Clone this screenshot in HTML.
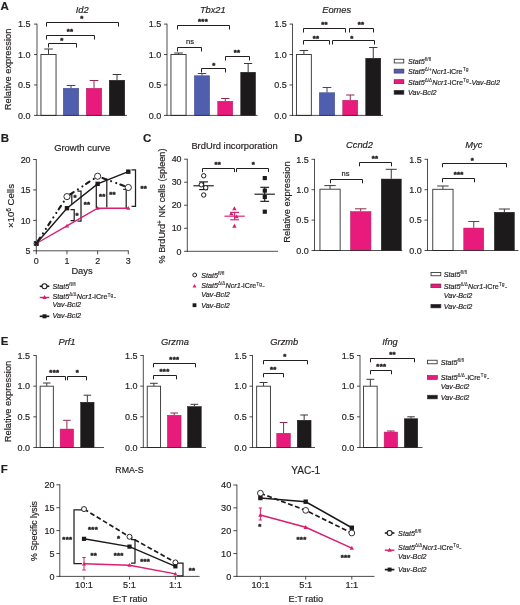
<!DOCTYPE html>
<html lang="en">
<head>
<meta charset="utf-8">
<title>Figure</title>
<style>html,body{margin:0;padding:0;background:#fff}svg{display:block}text{font-family:"Liberation Sans",sans-serif}</style>
</head>
<body>
<svg width="520" height="605" viewBox="0 0 520 605" font-family="'Liberation Sans', sans-serif">
<rect width="520" height="605" fill="#fff"/>
<text x="0.6" y="10.3" font-size="11.5" font-weight="bold" fill="#231f20" stroke="#231f20" stroke-width="0.18">A</text>
<text x="11.4" y="69.4" font-size="9.35" text-anchor="middle" fill="#231f20" stroke="#231f20" stroke-width="0.18" transform="rotate(-90 11.4 69.4)">Relative expression</text>
<text x="82.2" y="12.7" font-size="9.3" font-style="italic" text-anchor="middle" fill="#231f20" stroke="#231f20" stroke-width="0.18">Id2</text>
<line x1="37" y1="23.700000000000003" x2="37" y2="115.80000000000001" stroke="#231f20" stroke-width="0.8"/>
<line x1="34" y1="24.1" x2="37" y2="24.1" stroke="#231f20" stroke-width="0.8"/>
<text x="30.6" y="27.34" font-size="9.0" text-anchor="end" fill="#231f20" stroke="#231f20" stroke-width="0.18">1.5</text>
<line x1="34" y1="54.53333333333334" x2="37" y2="54.53333333333334" stroke="#231f20" stroke-width="0.8"/>
<text x="30.6" y="57.77333333333334" font-size="9.0" text-anchor="end" fill="#231f20" stroke="#231f20" stroke-width="0.18">1.0</text>
<line x1="34" y1="84.96666666666667" x2="37" y2="84.96666666666667" stroke="#231f20" stroke-width="0.8"/>
<text x="30.6" y="88.20666666666666" font-size="9.0" text-anchor="end" fill="#231f20" stroke="#231f20" stroke-width="0.18">0.5</text>
<line x1="34" y1="115.4" x2="37" y2="115.4" stroke="#231f20" stroke-width="0.8"/>
<text x="30.6" y="118.64" font-size="9.0" text-anchor="end" fill="#231f20" stroke="#231f20" stroke-width="0.18">0.0</text>
<line x1="48.5" y1="49" x2="48.5" y2="54.5" stroke="#3c3a3b" stroke-width="1.0"/>
<line x1="44.18" y1="49" x2="52.82" y2="49" stroke="#3c3a3b" stroke-width="1.0"/>
<rect x="40.95" y="54.50" width="15.10" height="60.90" fill="#fff" stroke="#3c3a3b" stroke-width="0.95"/>
<line x1="71.0" y1="85.5" x2="71.0" y2="88" stroke="#3e4478" stroke-width="1.0"/>
<line x1="66.68" y1="85.5" x2="75.32" y2="85.5" stroke="#3e4478" stroke-width="1.0"/>
<rect x="63.25" y="88.25" width="15.50" height="27.15" fill="#4f5fae" stroke="#3f4a8c" stroke-width="0.5"/>
<line x1="94.0" y1="80.5" x2="94.0" y2="88" stroke="#8e2a52" stroke-width="1.0"/>
<line x1="89.68" y1="80.5" x2="98.32" y2="80.5" stroke="#8e2a52" stroke-width="1.0"/>
<rect x="86.25" y="88.25" width="15.50" height="27.15" fill="#e81a7c" stroke="#b01f62" stroke-width="0.5"/>
<line x1="117.0" y1="74.5" x2="117.0" y2="80" stroke="#3a3839" stroke-width="1.0"/>
<line x1="112.68" y1="74.5" x2="121.32" y2="74.5" stroke="#3a3839" stroke-width="1.0"/>
<rect x="109.25" y="80.25" width="15.50" height="35.15" fill="#1d1a1b" stroke="#1d1a1b" stroke-width="0.5"/>
<line x1="36.6" y1="115.4" x2="127" y2="115.4" stroke="#231f20" stroke-width="0.8"/>
<path d="M46.5 26.5V22.5H118.5V26.5" stroke="#231f20" stroke-width="1.0" fill="none" stroke-linejoin="miter"/>
<path d="M46.5 39.5V35.5H94.5V39.5" stroke="#231f20" stroke-width="1.0" fill="none" stroke-linejoin="miter"/>
<path d="M48.5 47.5V43.5H76.5V47.5" stroke="#231f20" stroke-width="1.0" fill="none" stroke-linejoin="miter"/>
<text x="82" y="21.29" font-size="7.8" font-weight="bold" text-anchor="middle" fill="#231f20" stroke="#231f20" stroke-width="0.45" letter-spacing="0.25">*</text>
<text x="70" y="33.79" font-size="7.8" font-weight="bold" text-anchor="middle" fill="#231f20" stroke="#231f20" stroke-width="0.45" letter-spacing="0.25">**</text>
<text x="62" y="42.79" font-size="7.8" font-weight="bold" text-anchor="middle" fill="#231f20" stroke="#231f20" stroke-width="0.45" letter-spacing="0.25">*</text>
<text x="212.8" y="12.7" font-size="9.3" font-style="italic" text-anchor="middle" fill="#231f20" stroke="#231f20" stroke-width="0.18">Tbx21</text>
<line x1="167" y1="23.700000000000003" x2="167" y2="115.80000000000001" stroke="#231f20" stroke-width="0.8"/>
<line x1="164" y1="24.1" x2="167" y2="24.1" stroke="#231f20" stroke-width="0.8"/>
<text x="161.3" y="27.34" font-size="9.0" text-anchor="end" fill="#231f20" stroke="#231f20" stroke-width="0.18">1.5</text>
<line x1="164" y1="54.53333333333334" x2="167" y2="54.53333333333334" stroke="#231f20" stroke-width="0.8"/>
<text x="161.3" y="57.77333333333334" font-size="9.0" text-anchor="end" fill="#231f20" stroke="#231f20" stroke-width="0.18">1.0</text>
<line x1="164" y1="84.96666666666667" x2="167" y2="84.96666666666667" stroke="#231f20" stroke-width="0.8"/>
<text x="161.3" y="88.20666666666666" font-size="9.0" text-anchor="end" fill="#231f20" stroke="#231f20" stroke-width="0.18">0.5</text>
<line x1="164" y1="115.4" x2="167" y2="115.4" stroke="#231f20" stroke-width="0.8"/>
<text x="161.3" y="118.64" font-size="9.0" text-anchor="end" fill="#231f20" stroke="#231f20" stroke-width="0.18">0.0</text>
<line x1="178.5" y1="53" x2="178.5" y2="54.5" stroke="#3c3a3b" stroke-width="1.0"/>
<line x1="174.18" y1="53" x2="182.82" y2="53" stroke="#3c3a3b" stroke-width="1.0"/>
<rect x="170.95" y="54.50" width="15.10" height="60.90" fill="#fff" stroke="#3c3a3b" stroke-width="0.95"/>
<line x1="202.0" y1="73.5" x2="202.0" y2="75.5" stroke="#3e4478" stroke-width="1.0"/>
<line x1="197.734" y1="73.5" x2="206.266" y2="73.5" stroke="#3e4478" stroke-width="1.0"/>
<rect x="194.35" y="75.75" width="15.30" height="39.65" fill="#4f5fae" stroke="#3f4a8c" stroke-width="0.5"/>
<line x1="225.25" y1="98.5" x2="225.25" y2="101" stroke="#8e2a52" stroke-width="1.0"/>
<line x1="221.065" y1="98.5" x2="229.435" y2="98.5" stroke="#8e2a52" stroke-width="1.0"/>
<rect x="217.75" y="101.25" width="15.00" height="14.15" fill="#e81a7c" stroke="#b01f62" stroke-width="0.5"/>
<line x1="248.15" y1="63.5" x2="248.15" y2="72" stroke="#3a3839" stroke-width="1.0"/>
<line x1="244.019" y1="63.5" x2="252.281" y2="63.5" stroke="#3a3839" stroke-width="1.0"/>
<rect x="240.75" y="72.25" width="14.80" height="43.15" fill="#1d1a1b" stroke="#1d1a1b" stroke-width="0.5"/>
<line x1="166.6" y1="115.4" x2="257.5" y2="115.4" stroke="#231f20" stroke-width="0.8"/>
<path d="M177.5 29.5V25.5H229.5V29.5" stroke="#231f20" stroke-width="1.0" fill="none" stroke-linejoin="miter"/>
<path d="M177.5 51.5V47.5H201.5V51.5" stroke="#231f20" stroke-width="1.0" fill="none" stroke-linejoin="miter"/>
<path d="M201.5 72.5V68.5H225.5V72.5" stroke="#231f20" stroke-width="1.0" fill="none" stroke-linejoin="miter"/>
<path d="M225.5 60.5V56.5H249.5V60.5" stroke="#231f20" stroke-width="1.0" fill="none" stroke-linejoin="miter"/>
<text x="203" y="23.79" font-size="7.8" font-weight="bold" text-anchor="middle" fill="#231f20" stroke="#231f20" stroke-width="0.45" letter-spacing="0.25">***</text>
<text x="190" y="43.65" font-size="7.5" text-anchor="middle" fill="#231f20" stroke="#231f20" stroke-width="0.18">ns</text>
<text x="214" y="67.79" font-size="7.8" font-weight="bold" text-anchor="middle" fill="#231f20" stroke="#231f20" stroke-width="0.45" letter-spacing="0.25">*</text>
<text x="237" y="55.29" font-size="7.8" font-weight="bold" text-anchor="middle" fill="#231f20" stroke="#231f20" stroke-width="0.45" letter-spacing="0.25">**</text>
<text x="336.7" y="12.9" font-size="9.3" font-style="italic" text-anchor="middle" fill="#231f20" stroke="#231f20" stroke-width="0.18">Eomes</text>
<line x1="292.5" y1="23.700000000000003" x2="292.5" y2="115.80000000000001" stroke="#231f20" stroke-width="0.8"/>
<line x1="289.5" y1="24.1" x2="292.5" y2="24.1" stroke="#231f20" stroke-width="0.8"/>
<text x="286.8" y="27.34" font-size="9.0" text-anchor="end" fill="#231f20" stroke="#231f20" stroke-width="0.18">1.5</text>
<line x1="289.5" y1="54.53333333333334" x2="292.5" y2="54.53333333333334" stroke="#231f20" stroke-width="0.8"/>
<text x="286.8" y="57.77333333333334" font-size="9.0" text-anchor="end" fill="#231f20" stroke="#231f20" stroke-width="0.18">1.0</text>
<line x1="289.5" y1="84.96666666666667" x2="292.5" y2="84.96666666666667" stroke="#231f20" stroke-width="0.8"/>
<text x="286.8" y="88.20666666666666" font-size="9.0" text-anchor="end" fill="#231f20" stroke="#231f20" stroke-width="0.18">0.5</text>
<line x1="289.5" y1="115.4" x2="292.5" y2="115.4" stroke="#231f20" stroke-width="0.8"/>
<text x="286.8" y="118.64" font-size="9.0" text-anchor="end" fill="#231f20" stroke="#231f20" stroke-width="0.18">0.0</text>
<line x1="303.9" y1="50.5" x2="303.9" y2="54.5" stroke="#3c3a3b" stroke-width="1.0"/>
<line x1="299.63399999999996" y1="50.5" x2="308.166" y2="50.5" stroke="#3c3a3b" stroke-width="1.0"/>
<rect x="296.45" y="54.50" width="14.90" height="60.90" fill="#fff" stroke="#3c3a3b" stroke-width="0.95"/>
<line x1="327.0" y1="87.5" x2="327.0" y2="92.5" stroke="#3e4478" stroke-width="1.0"/>
<line x1="322.68" y1="87.5" x2="331.32" y2="87.5" stroke="#3e4478" stroke-width="1.0"/>
<rect x="319.25" y="92.75" width="15.50" height="22.65" fill="#4f5fae" stroke="#3f4a8c" stroke-width="0.5"/>
<line x1="350.25" y1="95" x2="350.25" y2="100" stroke="#8e2a52" stroke-width="1.0"/>
<line x1="346.065" y1="95" x2="354.435" y2="95" stroke="#8e2a52" stroke-width="1.0"/>
<rect x="342.75" y="100.25" width="15.00" height="15.15" fill="#e81a7c" stroke="#b01f62" stroke-width="0.5"/>
<line x1="373.25" y1="47.5" x2="373.25" y2="58" stroke="#3a3839" stroke-width="1.0"/>
<line x1="369.065" y1="47.5" x2="377.435" y2="47.5" stroke="#3a3839" stroke-width="1.0"/>
<rect x="365.75" y="58.25" width="15.00" height="57.15" fill="#1d1a1b" stroke="#1d1a1b" stroke-width="0.5"/>
<line x1="292.1" y1="115.4" x2="383" y2="115.4" stroke="#231f20" stroke-width="0.8"/>
<path d="M303.5 32.5V28.5H345.5V32.5" stroke="#231f20" stroke-width="1.0" fill="none" stroke-linejoin="miter"/>
<path d="M349.5 32.5V28.5H373.5V32.5" stroke="#231f20" stroke-width="1.0" fill="none" stroke-linejoin="miter"/>
<path d="M303.5 44.5V40.5H329.5V44.5" stroke="#231f20" stroke-width="1.0" fill="none" stroke-linejoin="miter"/>
<path d="M332.5 44.5V40.5H374.5V44.5" stroke="#231f20" stroke-width="1.0" fill="none" stroke-linejoin="miter"/>
<text x="324.5" y="26.99" font-size="7.8" font-weight="bold" text-anchor="middle" fill="#231f20" stroke="#231f20" stroke-width="0.45" letter-spacing="0.25">**</text>
<text x="361" y="26.99" font-size="7.8" font-weight="bold" text-anchor="middle" fill="#231f20" stroke="#231f20" stroke-width="0.45" letter-spacing="0.25">**</text>
<text x="316" y="40.69" font-size="7.8" font-weight="bold" text-anchor="middle" fill="#231f20" stroke="#231f20" stroke-width="0.45" letter-spacing="0.25">**</text>
<text x="352" y="40.69" font-size="7.8" font-weight="bold" text-anchor="middle" fill="#231f20" stroke="#231f20" stroke-width="0.45" letter-spacing="0.25">*</text>
<rect x="394.25" y="59.25" width="9.50" height="3.70" fill="#fff" stroke="#3c3a3b" stroke-width="0.9"/>
<text x="408" y="63.6" font-size="7.2" font-style="italic" fill="#231f20" stroke="#231f20" stroke-width="0.18">Stat5<tspan dy="-2.8" font-size="5.0" font-style="normal" stroke-width="0.08">fl/fl</tspan><tspan dy="2.8" font-size="0.6"> </tspan></text>
<rect x="394.10" y="69.10" width="9.80" height="4.00" fill="#4f5fae" stroke="#3a3340" stroke-width="0.6"/>
<text x="408" y="74" font-size="7.2" font-style="italic" fill="#231f20" stroke="#231f20" stroke-width="0.18">Stat5<tspan dy="-2.9" font-size="4.5" font-style="normal" stroke-width="0.08">Δ/+</tspan><tspan dy="2.9" font-size="0.6"> </tspan>Ncr1<tspan font-style="normal">-iCre</tspan><tspan dy="-2.7" font-size="5.0" font-style="normal" stroke-width="0.08">Tg</tspan><tspan dy="2.7" font-size="0.6"> </tspan></text>
<rect x="394.10" y="79.70" width="9.80" height="4.00" fill="#e81a7c" stroke="#3a3340" stroke-width="0.6"/>
<text x="408" y="84.5" font-size="7.2" font-style="italic" fill="#231f20" stroke="#231f20" stroke-width="0.18">Stat5<tspan dy="-2.9" font-size="4.5" font-style="normal" stroke-width="0.08">Δ/Δ</tspan><tspan dy="2.9" font-size="0.6"> </tspan>Ncr1<tspan font-style="normal">-iCre</tspan><tspan dy="-2.7" font-size="5.0" font-style="normal" stroke-width="0.08">Tg</tspan><tspan dy="2.7" font-size="0.6"> </tspan>-Vav-Bcl2</text>
<rect x="394.10" y="90.30" width="9.80" height="4.00" fill="#1d1a1b" stroke="#3a3340" stroke-width="0.6"/>
<text x="408" y="95" font-size="7.2" font-style="italic" fill="#231f20" stroke="#231f20" stroke-width="0.18">Vav-Bcl2</text>
<text x="0.7" y="142.4" font-size="11.5" font-weight="bold" fill="#231f20" stroke="#231f20" stroke-width="0.18">B</text>
<text x="82.2" y="150.5" font-size="9.45" text-anchor="middle" fill="#231f20" stroke="#231f20" stroke-width="0.18">Growth curve</text>
<line x1="36.3" y1="159.1" x2="36.3" y2="251.20000000000002" stroke="#231f20" stroke-width="0.8"/>
<line x1="33.099999999999994" y1="159.5" x2="36.3" y2="159.5" stroke="#231f20" stroke-width="0.8"/>
<text x="30.499999999999993" y="162.704" font-size="8.9" text-anchor="end" fill="#231f20" stroke="#231f20" stroke-width="0.18">20</text>
<line x1="33.099999999999994" y1="189.93333333333334" x2="36.3" y2="189.93333333333334" stroke="#231f20" stroke-width="0.8"/>
<text x="30.499999999999993" y="193.13733333333334" font-size="8.9" text-anchor="end" fill="#231f20" stroke="#231f20" stroke-width="0.18">15</text>
<line x1="33.099999999999994" y1="220.36666666666667" x2="36.3" y2="220.36666666666667" stroke="#231f20" stroke-width="0.8"/>
<text x="30.499999999999993" y="223.57066666666668" font-size="8.9" text-anchor="end" fill="#231f20" stroke="#231f20" stroke-width="0.18">10</text>
<line x1="33.099999999999994" y1="250.8" x2="36.3" y2="250.8" stroke="#231f20" stroke-width="0.8"/>
<text x="30.499999999999993" y="254.00400000000002" font-size="8.9" text-anchor="end" fill="#231f20" stroke="#231f20" stroke-width="0.18">5</text>
<line x1="35.9" y1="250.8" x2="128.70000000000002" y2="250.8" stroke="#231f20" stroke-width="0.8"/>
<line x1="36.3" y1="250.8" x2="36.3" y2="254.3" stroke="#231f20" stroke-width="0.8"/>
<text x="36.3" y="263.6" font-size="8.9" text-anchor="middle" fill="#231f20" stroke="#231f20" stroke-width="0.18">0</text>
<line x1="66.97" y1="250.8" x2="66.97" y2="254.3" stroke="#231f20" stroke-width="0.8"/>
<text x="66.97" y="263.6" font-size="8.9" text-anchor="middle" fill="#231f20" stroke="#231f20" stroke-width="0.18">1</text>
<line x1="97.64" y1="250.8" x2="97.64" y2="254.3" stroke="#231f20" stroke-width="0.8"/>
<text x="97.64" y="263.6" font-size="8.9" text-anchor="middle" fill="#231f20" stroke="#231f20" stroke-width="0.18">2</text>
<line x1="128.31" y1="250.8" x2="128.31" y2="254.3" stroke="#231f20" stroke-width="0.8"/>
<text x="128.31" y="263.6" font-size="8.9" text-anchor="middle" fill="#231f20" stroke="#231f20" stroke-width="0.18">3</text>
<text x="82" y="274.2" font-size="9.3" text-anchor="middle" fill="#231f20" stroke="#231f20" stroke-width="0.18">Days</text>
<text x="14" y="206" font-size="9.6" text-anchor="middle" fill="#231f20" stroke="#231f20" stroke-width="0.18" transform="rotate(-90 14 206)">×10<tspan dy="-3.5" font-size="6.5">6</tspan><tspan dy="3.5"> Cells</tspan></text>
<path d="M69.5 193.8H71.8V204" stroke="#231f20" stroke-width="1.25" fill="none"/>
<text x="75.2" y="200.48999999999998" font-size="7.8" font-weight="bold" text-anchor="middle" fill="#231f20" stroke="#231f20" stroke-width="0.45" letter-spacing="0.25">*</text>
<path d="M77.5 191H81V221H77.5" stroke="#231f20" stroke-width="1.25" fill="none"/>
<text x="87" y="206.79" font-size="7.8" font-weight="bold" text-anchor="middle" fill="#231f20" stroke="#231f20" stroke-width="0.45" letter-spacing="0.25">**</text>
<path d="M70.5 209.5H74.2V220.6H70.5" stroke="#231f20" stroke-width="1.25" fill="none"/>
<text x="77.2" y="217.89" font-size="7.8" font-weight="bold" text-anchor="middle" fill="#231f20" stroke="#231f20" stroke-width="0.45" letter-spacing="0.25">*</text>
<line x1="96.3" y1="184" x2="96.3" y2="208" stroke="#231f20" stroke-width="1.25"/>
<text x="102.3" y="198.79" font-size="7.8" font-weight="bold" text-anchor="middle" fill="#231f20" stroke="#231f20" stroke-width="0.45" letter-spacing="0.25">**</text>
<line x1="106.8" y1="178.5" x2="106.8" y2="207.6" stroke="#231f20" stroke-width="1.25"/>
<text x="112.6" y="197.29" font-size="7.8" font-weight="bold" text-anchor="middle" fill="#231f20" stroke="#231f20" stroke-width="0.45" letter-spacing="0.25">**</text>
<line x1="126.2" y1="189.4" x2="126.2" y2="208" stroke="#231f20" stroke-width="1.25"/>
<line x1="123.2" y1="189.4" x2="129.2" y2="189.4" stroke="#231f20" stroke-width="1.25"/>
<path d="M131.5 169.8H135.5V206.3H131.5" stroke="#231f20" stroke-width="1.25" fill="none"/>
<text x="143.8" y="190.59" font-size="7.8" font-weight="bold" text-anchor="middle" fill="#231f20" stroke="#231f20" stroke-width="0.45" letter-spacing="0.25">**</text>
<path d="M36.30 243.50L66.97 225.84L97.64 208.19L128.31 208.19" stroke="#d81f70" stroke-width="1.4" fill="none"/>
<path d="M36.30 243.50L66.97 196.63L97.64 176.24L128.31 187.50" stroke="#1d1a1b" stroke-width="2.15" fill="none" stroke-linecap="round" stroke-dasharray="4.1 5.1 0.01 5.4 0.01 4.4" stroke-dashoffset="16.14"/>
<path d="M36.30 243.50L66.97 208.19L97.64 183.85L128.31 171.67" stroke="#1d1a1b" stroke-width="1.45" fill="none"/>
<path d="M66.97 223.74L69.07 227.52H64.87Z" fill="#d81f70"/>
<path d="M97.64 206.09L99.74 209.87H95.54Z" fill="#d81f70"/>
<path d="M128.31 206.09L130.41 209.87H126.21Z" fill="#d81f70"/>
<circle cx="66.97" cy="196.63" r="3.1" fill="#fff" stroke="#1d1a1b" stroke-width="0.9"/>
<circle cx="97.64" cy="176.24" r="3.1" fill="#fff" stroke="#1d1a1b" stroke-width="0.9"/>
<circle cx="128.31" cy="187.50" r="3.1" fill="#fff" stroke="#1d1a1b" stroke-width="0.9"/>
<rect x="64.77" y="205.99" width="4.40" height="4.40" fill="#1d1a1b"/>
<rect x="95.44" y="181.65" width="4.40" height="4.40" fill="#1d1a1b"/>
<rect x="126.11" y="169.47" width="4.40" height="4.40" fill="#1d1a1b"/>
<circle cx="36.30" cy="243.50" r="2.3" fill="#fff" stroke="#1d1a1b" stroke-width="1.0"/>
<rect x="34.60" y="241.80" width="3.40" height="3.40" fill="#1d1a1b"/>
<path d="M33.9 241.096l4.8 4.8m0 -4.8l-4.8 4.8" stroke="#231f20" stroke-width="1.0" fill="none"/>
<line x1="39.7" y1="286.3" x2="49.3" y2="286.3" stroke="#1d1a1b" stroke-width="1.6"/>
<circle cx="44.50" cy="286.30" r="2.5" fill="#fff" stroke="#1d1a1b" stroke-width="1.1"/>
<text x="52.5" y="288.8" font-size="7.2" font-style="italic" fill="#231f20" stroke="#231f20" stroke-width="0.18">Stat5<tspan dy="-2.8" font-size="5.0" font-style="normal" stroke-width="0.08">fl/fl</tspan><tspan dy="2.8" font-size="0.6"> </tspan></text>
<line x1="39.7" y1="297.5" x2="49.3" y2="297.5" stroke="#d81f70" stroke-width="1.4"/>
<path d="M44.50 295.10L46.70 299.06H42.30Z" fill="#d81f70"/>
<text x="52.5" y="299.3" font-size="7.2" font-style="italic" fill="#231f20" stroke="#231f20" stroke-width="0.18">Stat5<tspan dy="-2.9" font-size="4.5" font-style="normal" stroke-width="0.08">Δ/Δ</tspan><tspan dy="2.9" font-size="0.6"> </tspan>Ncr1<tspan font-style="normal">-iCre</tspan><tspan dy="-2.7" font-size="5.0" font-style="normal" stroke-width="0.08">Tg</tspan><tspan dy="2.7" font-size="0.6"> </tspan>-</text>
<text x="52.5" y="307.2" font-size="7.2" font-style="italic" fill="#231f20" stroke="#231f20" stroke-width="0.18">Vav-Bcl2</text>
<line x1="39.7" y1="316.3" x2="49.3" y2="316.3" stroke="#1d1a1b" stroke-width="1.7"/>
<rect x="42.50" y="314.30" width="4.00" height="4.00" fill="#1d1a1b"/>
<text x="52.5" y="318.3" font-size="7.2" font-style="italic" fill="#231f20" stroke="#231f20" stroke-width="0.18">Vav-Bcl2</text>
<text x="143" y="142.4" font-size="11.5" font-weight="bold" fill="#231f20" stroke="#231f20" stroke-width="0.18">C</text>
<text x="234.5" y="148.8" font-size="9.35" text-anchor="middle" fill="#231f20" stroke="#231f20" stroke-width="0.18">BrdUrd incorporation</text>
<line x1="187.3" y1="158.79999999999998" x2="187.3" y2="251.70000000000002" stroke="#231f20" stroke-width="0.8"/>
<line x1="184.10000000000002" y1="159.2" x2="187.3" y2="159.2" stroke="#231f20" stroke-width="0.8"/>
<text x="181.50000000000003" y="162.404" font-size="8.9" text-anchor="end" fill="#231f20" stroke="#231f20" stroke-width="0.18">40</text>
<line x1="184.10000000000002" y1="182.225" x2="187.3" y2="182.225" stroke="#231f20" stroke-width="0.8"/>
<text x="181.50000000000003" y="185.429" font-size="8.9" text-anchor="end" fill="#231f20" stroke="#231f20" stroke-width="0.18">30</text>
<line x1="184.10000000000002" y1="205.25" x2="187.3" y2="205.25" stroke="#231f20" stroke-width="0.8"/>
<text x="181.50000000000003" y="208.454" font-size="8.9" text-anchor="end" fill="#231f20" stroke="#231f20" stroke-width="0.18">20</text>
<line x1="184.10000000000002" y1="228.275" x2="187.3" y2="228.275" stroke="#231f20" stroke-width="0.8"/>
<text x="181.50000000000003" y="231.479" font-size="8.9" text-anchor="end" fill="#231f20" stroke="#231f20" stroke-width="0.18">10</text>
<line x1="184.10000000000002" y1="251.3" x2="187.3" y2="251.3" stroke="#231f20" stroke-width="0.8"/>
<text x="181.50000000000003" y="254.50400000000002" font-size="8.9" text-anchor="end" fill="#231f20" stroke="#231f20" stroke-width="0.18">0</text>
<line x1="186.9" y1="251.3" x2="278" y2="251.3" stroke="#231f20" stroke-width="0.8"/>
<text x="165" y="206.0" font-size="9.15" text-anchor="middle" fill="#231f20" stroke="#231f20" stroke-width="0.18" transform="rotate(-90 165 206.0)">% BrdUrd<tspan dy="-3.2" font-size="6.5">+</tspan><tspan dy="3.2"> NK cells (spleen)</tspan></text>
<line x1="193.4" y1="185.79387499999999" x2="213.79999999999998" y2="185.79387499999999" stroke="#1d1a1b" stroke-width="1.15"/>
<line x1="203.6" y1="189.593" x2="203.6" y2="181.879625" stroke="#1d1a1b" stroke-width="1.15"/>
<line x1="199.2" y1="189.593" x2="208.0" y2="189.593" stroke="#1d1a1b" stroke-width="1.15"/>
<line x1="199.2" y1="181.879625" x2="208.0" y2="181.879625" stroke="#1d1a1b" stroke-width="1.15"/>
<circle cx="203.70" cy="175.78" r="2.2" fill="#fff" stroke="#1d1a1b" stroke-width="1.0"/>
<circle cx="201.30" cy="184.76" r="2.2" fill="#fff" stroke="#1d1a1b" stroke-width="1.0"/>
<circle cx="205.70" cy="187.75" r="2.2" fill="#fff" stroke="#1d1a1b" stroke-width="1.0"/>
<circle cx="203.70" cy="195.00" r="2.2" fill="#fff" stroke="#1d1a1b" stroke-width="1.0"/>
<line x1="224.4" y1="216.186875" x2="244.79999999999998" y2="216.186875" stroke="#d81f70" stroke-width="1.15"/>
<line x1="234.6" y1="219.75575" x2="234.6" y2="212.38775" stroke="#d81f70" stroke-width="1.15"/>
<line x1="230.2" y1="219.75575" x2="239.0" y2="219.75575" stroke="#d81f70" stroke-width="1.15"/>
<line x1="230.2" y1="212.38775" x2="239.0" y2="212.38775" stroke="#d81f70" stroke-width="1.15"/>
<path d="M234.40 206.34L236.60 210.30H232.20Z" fill="#d81f70"/>
<path d="M231.30 211.41L233.50 215.37H229.10Z" fill="#d81f70"/>
<path d="M236.60 214.40L238.80 218.36H234.40Z" fill="#d81f70"/>
<path d="M234.40 223.84L236.60 227.80H232.20Z" fill="#d81f70"/>
<line x1="254.5" y1="194.19799999999998" x2="274.9" y2="194.19799999999998" stroke="#1d1a1b" stroke-width="1.15"/>
<line x1="264.7" y1="201.33575000000002" x2="264.7" y2="187.2905" stroke="#1d1a1b" stroke-width="1.15"/>
<line x1="260.3" y1="201.33575000000002" x2="269.09999999999997" y2="201.33575000000002" stroke="#1d1a1b" stroke-width="1.15"/>
<line x1="260.3" y1="187.2905" x2="269.09999999999997" y2="187.2905" stroke="#1d1a1b" stroke-width="1.15"/>
<rect x="262.70" y="175.98" width="4.20" height="4.20" fill="#1d1a1b"/>
<rect x="262.70" y="188.51" width="4.20" height="4.20" fill="#1d1a1b"/>
<rect x="262.70" y="194.86" width="4.20" height="4.20" fill="#1d1a1b"/>
<rect x="262.70" y="209.60" width="4.20" height="4.20" fill="#1d1a1b"/>
<path d="M202.5 172.1V168.5H234.5V172.1" stroke="#231f20" stroke-width="1.0" fill="none" stroke-linejoin="miter"/>
<path d="M236.5 172.1V168.5H268.5V172.1" stroke="#231f20" stroke-width="1.0" fill="none" stroke-linejoin="miter"/>
<text x="217.7" y="166.59" font-size="7.8" font-weight="bold" text-anchor="middle" fill="#231f20" stroke="#231f20" stroke-width="0.45" letter-spacing="0.25">**</text>
<text x="253.3" y="166.59" font-size="7.8" font-weight="bold" text-anchor="middle" fill="#231f20" stroke="#231f20" stroke-width="0.45" letter-spacing="0.25">*</text>
<circle cx="194.7" cy="275" r="1.9" fill="#fff" stroke="#1d1a1b" stroke-width="1.0"/>
<text x="201.3" y="277.6" font-size="7.2" font-style="italic" fill="#231f20" stroke="#231f20" stroke-width="0.18">Stat5<tspan dy="-2.8" font-size="5.0" font-style="normal" stroke-width="0.08">fl/fl</tspan><tspan dy="2.8" font-size="0.6"> </tspan></text>
<path d="M194.50 284.00L196.50 287.60H192.50Z" fill="#d81f70"/>
<text x="201.3" y="288.2" font-size="7.2" font-style="italic" fill="#231f20" stroke="#231f20" stroke-width="0.18">Stat5<tspan dy="-2.9" font-size="4.5" font-style="normal" stroke-width="0.08">Δ/Δ</tspan><tspan dy="2.9" font-size="0.6"> </tspan>Ncr1<tspan font-style="normal">-iCre</tspan><tspan dy="-2.7" font-size="5.0" font-style="normal" stroke-width="0.08">Tg</tspan><tspan dy="2.7" font-size="0.6"> </tspan>-</text>
<text x="201.3" y="297.2" font-size="7.2" font-style="italic" fill="#231f20" stroke="#231f20" stroke-width="0.18">Vav-Bcl2</text>
<rect x="192.60" y="303.30" width="3.80" height="3.80" fill="#1d1a1b"/>
<text x="201.3" y="307.6" font-size="7.2" font-style="italic" fill="#231f20" stroke="#231f20" stroke-width="0.18">Vav-Bcl2</text>
<text x="294.3" y="142.4" font-size="11.5" font-weight="bold" fill="#231f20" stroke="#231f20" stroke-width="0.18">D</text>
<text x="289.8" y="202" font-size="9.35" text-anchor="middle" fill="#231f20" stroke="#231f20" stroke-width="0.18" transform="rotate(-90 289.8 202)">Relative expression</text>
<text x="359.5" y="148.2" font-size="9.3" font-style="italic" text-anchor="middle" fill="#231f20" stroke="#231f20" stroke-width="0.18">Ccnd2</text>
<line x1="314.5" y1="158.9" x2="314.5" y2="250.9" stroke="#231f20" stroke-width="0.8"/>
<line x1="311.5" y1="159.3" x2="314.5" y2="159.3" stroke="#231f20" stroke-width="0.8"/>
<text x="308.8" y="162.54000000000002" font-size="9.0" text-anchor="end" fill="#231f20" stroke="#231f20" stroke-width="0.18">1.5</text>
<line x1="311.5" y1="189.70000000000002" x2="314.5" y2="189.70000000000002" stroke="#231f20" stroke-width="0.8"/>
<text x="308.8" y="192.94000000000003" font-size="9.0" text-anchor="end" fill="#231f20" stroke="#231f20" stroke-width="0.18">1.0</text>
<line x1="311.5" y1="220.1" x2="314.5" y2="220.1" stroke="#231f20" stroke-width="0.8"/>
<text x="308.8" y="223.34" font-size="9.0" text-anchor="end" fill="#231f20" stroke="#231f20" stroke-width="0.18">0.5</text>
<line x1="311.5" y1="250.5" x2="314.5" y2="250.5" stroke="#231f20" stroke-width="0.8"/>
<text x="308.8" y="253.74" font-size="9.0" text-anchor="end" fill="#231f20" stroke="#231f20" stroke-width="0.18">0.0</text>
<line x1="330.05" y1="185.6" x2="330.05" y2="189.2" stroke="#3c3a3b" stroke-width="1.0"/>
<line x1="324.353" y1="185.6" x2="335.747" y2="185.6" stroke="#3c3a3b" stroke-width="1.0"/>
<rect x="319.95" y="189.20" width="20.20" height="61.30" fill="#fff" stroke="#3c3a3b" stroke-width="0.95"/>
<line x1="360.7" y1="208.8" x2="360.7" y2="211.3" stroke="#8e2a52" stroke-width="1.0"/>
<line x1="355.03" y1="208.8" x2="366.37" y2="208.8" stroke="#8e2a52" stroke-width="1.0"/>
<rect x="350.45" y="211.55" width="20.50" height="38.95" fill="#e81a7c" stroke="#b01f62" stroke-width="0.5"/>
<line x1="391.25" y1="169.3" x2="391.25" y2="178.8" stroke="#3a3839" stroke-width="1.0"/>
<line x1="385.715" y1="169.3" x2="396.785" y2="169.3" stroke="#3a3839" stroke-width="1.0"/>
<rect x="381.25" y="179.05" width="20.00" height="71.45" fill="#1d1a1b" stroke="#1d1a1b" stroke-width="0.5"/>
<line x1="314.1" y1="250.5" x2="402.2" y2="250.5" stroke="#231f20" stroke-width="0.8"/>
<path d="M330.5 183.3V179.5H362.5V183.3" stroke="#231f20" stroke-width="1.0" fill="none" stroke-linejoin="miter"/>
<path d="M359.5 166.3V162.5H391.5V166.3" stroke="#231f20" stroke-width="1.0" fill="none" stroke-linejoin="miter"/>
<text x="345.5" y="175.85" font-size="7.5" text-anchor="middle" fill="#231f20" stroke="#231f20" stroke-width="0.18">ns</text>
<text x="375" y="161.48999999999998" font-size="7.8" font-weight="bold" text-anchor="middle" fill="#231f20" stroke="#231f20" stroke-width="0.45" letter-spacing="0.25">**</text>
<text x="473.8" y="148.2" font-size="9.3" font-style="italic" text-anchor="middle" fill="#231f20" stroke="#231f20" stroke-width="0.18">Myc</text>
<line x1="427.5" y1="158.9" x2="427.5" y2="250.9" stroke="#231f20" stroke-width="0.8"/>
<line x1="424.5" y1="159.3" x2="427.5" y2="159.3" stroke="#231f20" stroke-width="0.8"/>
<text x="421.8" y="162.54000000000002" font-size="9.0" text-anchor="end" fill="#231f20" stroke="#231f20" stroke-width="0.18">1.5</text>
<line x1="424.5" y1="189.70000000000002" x2="427.5" y2="189.70000000000002" stroke="#231f20" stroke-width="0.8"/>
<text x="421.8" y="192.94000000000003" font-size="9.0" text-anchor="end" fill="#231f20" stroke="#231f20" stroke-width="0.18">1.0</text>
<line x1="424.5" y1="220.1" x2="427.5" y2="220.1" stroke="#231f20" stroke-width="0.8"/>
<text x="421.8" y="223.34" font-size="9.0" text-anchor="end" fill="#231f20" stroke="#231f20" stroke-width="0.18">0.5</text>
<line x1="424.5" y1="250.5" x2="427.5" y2="250.5" stroke="#231f20" stroke-width="0.8"/>
<text x="421.8" y="253.74" font-size="9.0" text-anchor="end" fill="#231f20" stroke="#231f20" stroke-width="0.18">0.0</text>
<line x1="442.9" y1="186" x2="442.9" y2="189.3" stroke="#3c3a3b" stroke-width="1.0"/>
<line x1="437.176" y1="186" x2="448.62399999999997" y2="186" stroke="#3c3a3b" stroke-width="1.0"/>
<rect x="432.75" y="189.30" width="20.30" height="61.20" fill="#fff" stroke="#3c3a3b" stroke-width="0.95"/>
<line x1="473.75" y1="221.5" x2="473.75" y2="227.8" stroke="#8e2a52" stroke-width="1.0"/>
<line x1="468.215" y1="221.5" x2="479.285" y2="221.5" stroke="#8e2a52" stroke-width="1.0"/>
<rect x="463.75" y="228.05" width="20.00" height="22.45" fill="#e81a7c" stroke="#b01f62" stroke-width="0.5"/>
<line x1="504.35" y1="209" x2="504.35" y2="212" stroke="#3a3839" stroke-width="1.0"/>
<line x1="498.815" y1="209" x2="509.88500000000005" y2="209" stroke="#3a3839" stroke-width="1.0"/>
<rect x="494.35" y="212.25" width="20.00" height="38.25" fill="#1d1a1b" stroke="#1d1a1b" stroke-width="0.5"/>
<line x1="427.1" y1="250.5" x2="518.5" y2="250.5" stroke="#231f20" stroke-width="0.8"/>
<path d="M442.5 167.3V163.5H506.5V167.3" stroke="#231f20" stroke-width="1.0" fill="none" stroke-linejoin="miter"/>
<path d="M442.5 182.3V178.5H474.5V182.3" stroke="#231f20" stroke-width="1.0" fill="none" stroke-linejoin="miter"/>
<text x="472.4" y="162.89" font-size="7.8" font-weight="bold" text-anchor="middle" fill="#231f20" stroke="#231f20" stroke-width="0.45" letter-spacing="0.25">*</text>
<text x="458.7" y="176.59" font-size="7.8" font-weight="bold" text-anchor="middle" fill="#231f20" stroke="#231f20" stroke-width="0.45" letter-spacing="0.25">***</text>
<rect x="431.05" y="272.45" width="9.70" height="3.30" fill="#fff" stroke="#3c3a3b" stroke-width="0.9"/>
<text x="443.8" y="276.6" font-size="7.2" font-style="italic" fill="#231f20" stroke="#231f20" stroke-width="0.18">Stat5<tspan dy="-2.8" font-size="5.0" font-style="normal" stroke-width="0.08">fl/fl</tspan><tspan dy="2.8" font-size="0.6"> </tspan></text>
<rect x="430.90" y="284.00" width="10.00" height="3.70" fill="#e81a7c" stroke="#3a3340" stroke-width="0.6"/>
<text x="443.8" y="288.6" font-size="7.2" font-style="italic" fill="#231f20" stroke="#231f20" stroke-width="0.18">Stat5<tspan dy="-2.9" font-size="4.5" font-style="normal" stroke-width="0.08">Δ/Δ</tspan><tspan dy="2.9" font-size="0.6"> </tspan>Ncr1<tspan font-style="normal">-iCre</tspan><tspan dy="-2.7" font-size="5.0" font-style="normal" stroke-width="0.08">Tg</tspan><tspan dy="2.7" font-size="0.6"> </tspan>-</text>
<text x="443.8" y="297.5" font-size="7.2" font-style="italic" fill="#231f20" stroke="#231f20" stroke-width="0.18">Vav-Bcl2</text>
<rect x="430.90" y="304.30" width="10.00" height="3.60" fill="#1d1a1b" stroke="#3a3340" stroke-width="0.6"/>
<text x="443.8" y="308.5" font-size="7.2" font-style="italic" fill="#231f20" stroke="#231f20" stroke-width="0.18">Vav-Bcl2</text>
<text x="0.7" y="344.6" font-size="11.5" font-weight="bold" fill="#231f20" stroke="#231f20" stroke-width="0.18">E</text>
<text x="11.4" y="401.5" font-size="9.35" text-anchor="middle" fill="#231f20" stroke="#231f20" stroke-width="0.18" transform="rotate(-90 11.4 401.5)">Relative expression</text>
<text x="67" y="345.3" font-size="9.3" font-style="italic" text-anchor="middle" fill="#231f20" stroke="#231f20" stroke-width="0.18">Prf1</text>
<line x1="36.3" y1="355.1" x2="36.3" y2="447.9" stroke="#231f20" stroke-width="0.8"/>
<line x1="33.3" y1="355.5" x2="36.3" y2="355.5" stroke="#231f20" stroke-width="0.8"/>
<text x="29.9" y="358.74" font-size="9.0" text-anchor="end" fill="#231f20" stroke="#231f20" stroke-width="0.18">1.5</text>
<line x1="33.3" y1="386.1666666666667" x2="36.3" y2="386.1666666666667" stroke="#231f20" stroke-width="0.8"/>
<text x="29.9" y="389.4066666666667" font-size="9.0" text-anchor="end" fill="#231f20" stroke="#231f20" stroke-width="0.18">1.0</text>
<line x1="33.3" y1="416.8333333333333" x2="36.3" y2="416.8333333333333" stroke="#231f20" stroke-width="0.8"/>
<text x="29.9" y="420.0733333333333" font-size="9.0" text-anchor="end" fill="#231f20" stroke="#231f20" stroke-width="0.18">0.5</text>
<line x1="33.3" y1="447.5" x2="36.3" y2="447.5" stroke="#231f20" stroke-width="0.8"/>
<text x="29.9" y="450.74" font-size="9.0" text-anchor="end" fill="#231f20" stroke="#231f20" stroke-width="0.18">0.0</text>
<line x1="46.75" y1="383" x2="46.75" y2="386.2" stroke="#3c3a3b" stroke-width="1.0"/>
<line x1="42.943" y1="383" x2="50.557" y2="383" stroke="#3c3a3b" stroke-width="1.0"/>
<rect x="40.15" y="386.20" width="13.20" height="61.30" fill="#fff" stroke="#3c3a3b" stroke-width="0.95"/>
<line x1="66.9" y1="420.3" x2="66.9" y2="428.8" stroke="#8e2a52" stroke-width="1.0"/>
<line x1="63.120000000000005" y1="420.3" x2="70.68" y2="420.3" stroke="#8e2a52" stroke-width="1.0"/>
<rect x="60.15" y="429.05" width="13.50" height="18.45" fill="#e81a7c" stroke="#b01f62" stroke-width="0.5"/>
<line x1="87.35" y1="395.2" x2="87.35" y2="402" stroke="#3a3839" stroke-width="1.0"/>
<line x1="83.597" y1="395.2" x2="91.103" y2="395.2" stroke="#3a3839" stroke-width="1.0"/>
<rect x="80.65" y="402.25" width="13.40" height="45.25" fill="#1d1a1b" stroke="#1d1a1b" stroke-width="0.5"/>
<line x1="35.9" y1="447.5" x2="104" y2="447.5" stroke="#231f20" stroke-width="0.8"/>
<path d="M46.5 380.3V376.5H65.5V380.3" stroke="#231f20" stroke-width="1.0" fill="none" stroke-linejoin="miter"/>
<path d="M67.5 380.3V376.5H86.5V380.3" stroke="#231f20" stroke-width="1.0" fill="none" stroke-linejoin="miter"/>
<text x="54.3" y="374.89000000000004" font-size="7.8" font-weight="bold" text-anchor="middle" fill="#231f20" stroke="#231f20" stroke-width="0.45" letter-spacing="0.25">***</text>
<text x="77.5" y="374.89000000000004" font-size="7.8" font-weight="bold" text-anchor="middle" fill="#231f20" stroke="#231f20" stroke-width="0.45" letter-spacing="0.25">*</text>
<text x="175" y="345.3" font-size="9.3" font-style="italic" text-anchor="middle" fill="#231f20" stroke="#231f20" stroke-width="0.18">Grzma</text>
<line x1="143.3" y1="355.1" x2="143.3" y2="447.9" stroke="#231f20" stroke-width="0.8"/>
<line x1="140.3" y1="355.5" x2="143.3" y2="355.5" stroke="#231f20" stroke-width="0.8"/>
<text x="137.60000000000002" y="358.74" font-size="9.0" text-anchor="end" fill="#231f20" stroke="#231f20" stroke-width="0.18">1.5</text>
<line x1="140.3" y1="386.1666666666667" x2="143.3" y2="386.1666666666667" stroke="#231f20" stroke-width="0.8"/>
<text x="137.60000000000002" y="389.4066666666667" font-size="9.0" text-anchor="end" fill="#231f20" stroke="#231f20" stroke-width="0.18">1.0</text>
<line x1="140.3" y1="416.8333333333333" x2="143.3" y2="416.8333333333333" stroke="#231f20" stroke-width="0.8"/>
<text x="137.60000000000002" y="420.0733333333333" font-size="9.0" text-anchor="end" fill="#231f20" stroke="#231f20" stroke-width="0.18">0.5</text>
<line x1="140.3" y1="447.5" x2="143.3" y2="447.5" stroke="#231f20" stroke-width="0.8"/>
<text x="137.60000000000002" y="450.74" font-size="9.0" text-anchor="end" fill="#231f20" stroke="#231f20" stroke-width="0.18">0.0</text>
<line x1="153.9" y1="383.3" x2="153.9" y2="386.2" stroke="#3c3a3b" stroke-width="1.0"/>
<line x1="150.066" y1="383.3" x2="157.734" y2="383.3" stroke="#3c3a3b" stroke-width="1.0"/>
<rect x="147.25" y="386.20" width="13.30" height="61.30" fill="#fff" stroke="#3c3a3b" stroke-width="0.95"/>
<line x1="174.2" y1="413" x2="174.2" y2="415" stroke="#8e2a52" stroke-width="1.0"/>
<line x1="170.36599999999999" y1="413" x2="178.034" y2="413" stroke="#8e2a52" stroke-width="1.0"/>
<rect x="167.35" y="415.25" width="13.70" height="32.25" fill="#e81a7c" stroke="#b01f62" stroke-width="0.5"/>
<line x1="194.4" y1="404.3" x2="194.4" y2="406.3" stroke="#3a3839" stroke-width="1.0"/>
<line x1="190.566" y1="404.3" x2="198.234" y2="404.3" stroke="#3a3839" stroke-width="1.0"/>
<rect x="187.55" y="406.55" width="13.70" height="40.95" fill="#1d1a1b" stroke="#1d1a1b" stroke-width="0.5"/>
<line x1="142.9" y1="447.5" x2="206" y2="447.5" stroke="#231f20" stroke-width="0.8"/>
<path d="M153.5 367.3V363.5H195.5V367.3" stroke="#231f20" stroke-width="1.0" fill="none" stroke-linejoin="miter"/>
<path d="M153.5 379.3V375.5H176.5V379.3" stroke="#231f20" stroke-width="1.0" fill="none" stroke-linejoin="miter"/>
<text x="174.3" y="362.09000000000003" font-size="7.8" font-weight="bold" text-anchor="middle" fill="#231f20" stroke="#231f20" stroke-width="0.45" letter-spacing="0.25">***</text>
<text x="164.5" y="374.09000000000003" font-size="7.8" font-weight="bold" text-anchor="middle" fill="#231f20" stroke="#231f20" stroke-width="0.45" letter-spacing="0.25">***</text>
<text x="284.3" y="345.3" font-size="9.3" font-style="italic" text-anchor="middle" fill="#231f20" stroke="#231f20" stroke-width="0.18">Grzmb</text>
<line x1="252.5" y1="355.1" x2="252.5" y2="447.9" stroke="#231f20" stroke-width="0.8"/>
<line x1="249.5" y1="355.5" x2="252.5" y2="355.5" stroke="#231f20" stroke-width="0.8"/>
<text x="246.8" y="358.74" font-size="9.0" text-anchor="end" fill="#231f20" stroke="#231f20" stroke-width="0.18">1.5</text>
<line x1="249.5" y1="386.1666666666667" x2="252.5" y2="386.1666666666667" stroke="#231f20" stroke-width="0.8"/>
<text x="246.8" y="389.4066666666667" font-size="9.0" text-anchor="end" fill="#231f20" stroke="#231f20" stroke-width="0.18">1.0</text>
<line x1="249.5" y1="416.8333333333333" x2="252.5" y2="416.8333333333333" stroke="#231f20" stroke-width="0.8"/>
<text x="246.8" y="420.0733333333333" font-size="9.0" text-anchor="end" fill="#231f20" stroke="#231f20" stroke-width="0.18">0.5</text>
<line x1="249.5" y1="447.5" x2="252.5" y2="447.5" stroke="#231f20" stroke-width="0.8"/>
<text x="246.8" y="450.74" font-size="9.0" text-anchor="end" fill="#231f20" stroke="#231f20" stroke-width="0.18">0.0</text>
<line x1="263.54999999999995" y1="382.5" x2="263.54999999999995" y2="386.2" stroke="#3c3a3b" stroke-width="1.0"/>
<line x1="259.58099999999996" y1="382.5" x2="267.51899999999995" y2="382.5" stroke="#3c3a3b" stroke-width="1.0"/>
<rect x="256.65" y="386.20" width="13.80" height="61.30" fill="#fff" stroke="#3c3a3b" stroke-width="0.95"/>
<line x1="283.6" y1="422.5" x2="283.6" y2="433" stroke="#8e2a52" stroke-width="1.0"/>
<line x1="279.766" y1="422.5" x2="287.434" y2="422.5" stroke="#8e2a52" stroke-width="1.0"/>
<rect x="276.75" y="433.25" width="13.70" height="14.25" fill="#e81a7c" stroke="#b01f62" stroke-width="0.5"/>
<line x1="304.15" y1="415" x2="304.15" y2="420" stroke="#3a3839" stroke-width="1.0"/>
<line x1="300.289" y1="415" x2="308.01099999999997" y2="415" stroke="#3a3839" stroke-width="1.0"/>
<rect x="297.25" y="420.25" width="13.80" height="27.25" fill="#1d1a1b" stroke="#1d1a1b" stroke-width="0.5"/>
<line x1="252.1" y1="447.5" x2="315" y2="447.5" stroke="#231f20" stroke-width="0.8"/>
<path d="M263.5 364.3V360.5H307.5V364.3" stroke="#231f20" stroke-width="1.0" fill="none" stroke-linejoin="miter"/>
<path d="M263.5 377.3V373.5H283.5V377.3" stroke="#231f20" stroke-width="1.0" fill="none" stroke-linejoin="miter"/>
<text x="285" y="358.89000000000004" font-size="7.8" font-weight="bold" text-anchor="middle" fill="#231f20" stroke="#231f20" stroke-width="0.45" letter-spacing="0.25">*</text>
<text x="273.3" y="371.59000000000003" font-size="7.8" font-weight="bold" text-anchor="middle" fill="#231f20" stroke="#231f20" stroke-width="0.45" letter-spacing="0.25">**</text>
<text x="390" y="345.3" font-size="9.3" font-style="italic" text-anchor="middle" fill="#231f20" stroke="#231f20" stroke-width="0.18">Ifng</text>
<line x1="360" y1="355.1" x2="360" y2="447.9" stroke="#231f20" stroke-width="0.8"/>
<line x1="357" y1="355.5" x2="360" y2="355.5" stroke="#231f20" stroke-width="0.8"/>
<text x="354.3" y="358.74" font-size="9.0" text-anchor="end" fill="#231f20" stroke="#231f20" stroke-width="0.18">1.5</text>
<line x1="357" y1="386.1666666666667" x2="360" y2="386.1666666666667" stroke="#231f20" stroke-width="0.8"/>
<text x="354.3" y="389.4066666666667" font-size="9.0" text-anchor="end" fill="#231f20" stroke="#231f20" stroke-width="0.18">1.0</text>
<line x1="357" y1="416.8333333333333" x2="360" y2="416.8333333333333" stroke="#231f20" stroke-width="0.8"/>
<text x="354.3" y="420.0733333333333" font-size="9.0" text-anchor="end" fill="#231f20" stroke="#231f20" stroke-width="0.18">0.5</text>
<line x1="357" y1="447.5" x2="360" y2="447.5" stroke="#231f20" stroke-width="0.8"/>
<text x="354.3" y="450.74" font-size="9.0" text-anchor="end" fill="#231f20" stroke="#231f20" stroke-width="0.18">0.0</text>
<line x1="370.35" y1="379.3" x2="370.35" y2="386.2" stroke="#3c3a3b" stroke-width="1.0"/>
<line x1="366.435" y1="379.3" x2="374.26500000000004" y2="379.3" stroke="#3c3a3b" stroke-width="1.0"/>
<rect x="363.55" y="386.20" width="13.60" height="61.30" fill="#fff" stroke="#3c3a3b" stroke-width="0.95"/>
<line x1="390.9" y1="431.0" x2="390.9" y2="431.8" stroke="#8e2a52" stroke-width="1.0"/>
<line x1="387.12" y1="431.0" x2="394.67999999999995" y2="431.0" stroke="#8e2a52" stroke-width="1.0"/>
<rect x="384.15" y="432.05" width="13.50" height="15.45" fill="#e81a7c" stroke="#b01f62" stroke-width="0.5"/>
<line x1="411.05" y1="416.8" x2="411.05" y2="418.5" stroke="#3a3839" stroke-width="1.0"/>
<line x1="407.297" y1="416.8" x2="414.803" y2="416.8" stroke="#3a3839" stroke-width="1.0"/>
<rect x="404.35" y="418.75" width="13.40" height="28.75" fill="#1d1a1b" stroke="#1d1a1b" stroke-width="0.5"/>
<line x1="359.6" y1="447.5" x2="422.5" y2="447.5" stroke="#231f20" stroke-width="0.8"/>
<path d="M370.5 362.3V358.5H414.5V362.3" stroke="#231f20" stroke-width="1.0" fill="none" stroke-linejoin="miter"/>
<path d="M370.5 374.3V370.5H391.5V374.3" stroke="#231f20" stroke-width="1.0" fill="none" stroke-linejoin="miter"/>
<text x="392.5" y="357.09000000000003" font-size="7.8" font-weight="bold" text-anchor="middle" fill="#231f20" stroke="#231f20" stroke-width="0.45" letter-spacing="0.25">**</text>
<text x="381.3" y="368.79" font-size="7.8" font-weight="bold" text-anchor="middle" fill="#231f20" stroke="#231f20" stroke-width="0.45" letter-spacing="0.25">***</text>
<rect x="427.55" y="360.25" width="9.60" height="3.50" fill="#fff" stroke="#3c3a3b" stroke-width="0.9"/>
<text x="440.8" y="364.8" font-size="7.2" font-style="italic" fill="#231f20" stroke="#231f20" stroke-width="0.18">Stat5<tspan dy="-2.8" font-size="5.0" font-style="normal" stroke-width="0.08">fl/fl</tspan><tspan dy="2.8" font-size="0.6"> </tspan></text>
<rect x="427.40" y="375.60" width="9.90" height="3.80" fill="#e81a7c" stroke="#3a3340" stroke-width="0.6"/>
<text x="440.8" y="379.9" font-size="7.2" font-style="italic" fill="#231f20" stroke="#231f20" stroke-width="0.18">Stat5<tspan dy="-2.9" font-size="4.5" font-style="normal" stroke-width="0.08">Δ/Δ</tspan><tspan dy="2.9" font-size="0.6"> </tspan><tspan font-style="normal">-iCre</tspan><tspan dy="-2.7" font-size="5.0" font-style="normal" stroke-width="0.08">Tg</tspan><tspan dy="2.7" font-size="0.6"> </tspan>-</text>
<text x="440.8" y="388.6" font-size="7.2" font-style="italic" fill="#231f20" stroke="#231f20" stroke-width="0.18">Vav-Bcl2</text>
<rect x="427.40" y="395.20" width="9.90" height="3.70" fill="#1d1a1b" stroke="#3a3340" stroke-width="0.6"/>
<text x="440.8" y="399.7" font-size="7.2" font-style="italic" fill="#231f20" stroke="#231f20" stroke-width="0.18">Vav-Bcl2</text>
<text x="0.7" y="472.8" font-size="11.5" font-weight="bold" fill="#231f20" stroke="#231f20" stroke-width="0.18">F</text>
<text x="129.5" y="473.4" font-size="8.8" text-anchor="middle" fill="#231f20" stroke="#231f20" stroke-width="0.18">RMA-S</text>
<line x1="59.8" y1="484.40000000000003" x2="59.8" y2="576.8" stroke="#231f20" stroke-width="0.8"/>
<line x1="56.4" y1="484.8" x2="59.8" y2="484.8" stroke="#231f20" stroke-width="0.8"/>
<text x="54.6" y="488.04" font-size="9.0" text-anchor="end" fill="#231f20" stroke="#231f20" stroke-width="0.18">20</text>
<line x1="56.4" y1="507.7" x2="59.8" y2="507.7" stroke="#231f20" stroke-width="0.8"/>
<text x="54.6" y="510.94" font-size="9.0" text-anchor="end" fill="#231f20" stroke="#231f20" stroke-width="0.18">15</text>
<line x1="56.4" y1="530.6" x2="59.8" y2="530.6" stroke="#231f20" stroke-width="0.8"/>
<text x="54.6" y="533.84" font-size="9.0" text-anchor="end" fill="#231f20" stroke="#231f20" stroke-width="0.18">10</text>
<line x1="56.4" y1="553.5" x2="59.8" y2="553.5" stroke="#231f20" stroke-width="0.8"/>
<text x="54.6" y="556.74" font-size="9.0" text-anchor="end" fill="#231f20" stroke="#231f20" stroke-width="0.18">5</text>
<line x1="56.4" y1="576.4" x2="59.8" y2="576.4" stroke="#231f20" stroke-width="0.8"/>
<text x="54.6" y="579.64" font-size="9.0" text-anchor="end" fill="#231f20" stroke="#231f20" stroke-width="0.18">0</text>
<line x1="59.4" y1="576.4" x2="199.6" y2="576.4" stroke="#231f20" stroke-width="0.8"/>
<text x="37.1" y="531" font-size="8.7" text-anchor="middle" fill="#231f20" stroke="#231f20" stroke-width="0.18" transform="rotate(-90 37.1 531)">% Specific lysis</text>
<line x1="84" y1="576.4" x2="84" y2="579.6" stroke="#231f20" stroke-width="0.8"/>
<text x="84" y="588.2" font-size="9.2" text-anchor="middle" fill="#231f20" stroke="#231f20" stroke-width="0.18">10:1</text>
<line x1="129.5" y1="576.4" x2="129.5" y2="579.6" stroke="#231f20" stroke-width="0.8"/>
<text x="129.5" y="588.2" font-size="9.2" text-anchor="middle" fill="#231f20" stroke="#231f20" stroke-width="0.18">5:1</text>
<line x1="175.4" y1="576.4" x2="175.4" y2="579.6" stroke="#231f20" stroke-width="0.8"/>
<text x="175.4" y="588.2" font-size="9.2" text-anchor="middle" fill="#231f20" stroke="#231f20" stroke-width="0.18">1:1</text>
<text x="130" y="602.0" font-size="9.2" text-anchor="middle" fill="#231f20" stroke="#231f20" stroke-width="0.18">E:T ratio</text>
<path d="M82 509.8H74V563.7H82" stroke="#231f20" stroke-width="1.25" fill="none"/>
<text x="67.3" y="541.5899999999999" font-size="7.8" font-weight="bold" text-anchor="middle" fill="#231f20" stroke="#231f20" stroke-width="0.45" letter-spacing="0.25">***</text>
<text x="93" y="532.29" font-size="7.8" font-weight="bold" text-anchor="middle" fill="#231f20" stroke="#231f20" stroke-width="0.45" letter-spacing="0.25">***</text>
<text x="93.7" y="557.79" font-size="7.8" font-weight="bold" text-anchor="middle" fill="#231f20" stroke="#231f20" stroke-width="0.45" letter-spacing="0.25">**</text>
<text x="118.7" y="540.79" font-size="7.8" font-weight="bold" text-anchor="middle" fill="#231f20" stroke="#231f20" stroke-width="0.45" letter-spacing="0.25">*</text>
<text x="118.7" y="557.79" font-size="7.8" font-weight="bold" text-anchor="middle" fill="#231f20" stroke="#231f20" stroke-width="0.45" letter-spacing="0.25">***</text>
<path d="M131 539.6H135V563H131" stroke="#231f20" stroke-width="1.25" fill="none"/>
<text x="145.2" y="563.79" font-size="7.8" font-weight="bold" text-anchor="middle" fill="#231f20" stroke="#231f20" stroke-width="0.45" letter-spacing="0.25">***</text>
<path d="M177 563H183V575.8H177" stroke="#231f20" stroke-width="1.25" fill="none"/>
<text x="192" y="572.5899999999999" font-size="7.8" font-weight="bold" text-anchor="middle" fill="#231f20" stroke="#231f20" stroke-width="0.45" letter-spacing="0.25">**</text>
<path d="M84 563.80L129.5 565.18L175.4 573.88" stroke="#d81f70" stroke-width="1.5" fill="none"/>
<line x1="84" y1="557.5" x2="84" y2="570" stroke="#d81f70" stroke-width="1.0"/>
<line x1="82.3" y1="557.5" x2="85.7" y2="557.5" stroke="#d81f70" stroke-width="1.0"/>
<line x1="82.3" y1="570" x2="85.7" y2="570" stroke="#d81f70" stroke-width="1.0"/>
<path d="M84 509.07L129.5 536.78L175.4 562.43" stroke="#1d1a1b" stroke-width="1.7" fill="none" stroke-dasharray="4.8 2.6"/>
<path d="M84 538.84L129.5 546.63L175.4 566.32" stroke="#1d1a1b" stroke-width="1.5" fill="none"/>
<path d="M84.00 561.70L86.10 565.48H81.90Z" fill="#d81f70"/>
<path d="M129.50 563.08L131.60 566.86H127.40Z" fill="#d81f70"/>
<path d="M175.40 571.78L177.50 575.56H173.30Z" fill="#d81f70"/>
<circle cx="84.00" cy="509.07" r="2.5" fill="#fff" stroke="#1d1a1b" stroke-width="0.95"/>
<circle cx="129.50" cy="536.78" r="2.5" fill="#fff" stroke="#1d1a1b" stroke-width="0.95"/>
<circle cx="175.40" cy="562.43" r="2.5" fill="#fff" stroke="#1d1a1b" stroke-width="0.95"/>
<rect x="81.90" y="536.74" width="4.20" height="4.20" fill="#1d1a1b"/>
<rect x="127.40" y="544.53" width="4.20" height="4.20" fill="#1d1a1b"/>
<rect x="173.30" y="564.22" width="4.20" height="4.20" fill="#1d1a1b"/>
<text x="305.7" y="473.6" font-size="10.1" text-anchor="middle" fill="#231f20" stroke="#231f20" stroke-width="0.18">YAC-1</text>
<line x1="236.9" y1="484.6" x2="236.9" y2="576.8" stroke="#231f20" stroke-width="0.8"/>
<line x1="233.3" y1="485.0" x2="236.9" y2="485.0" stroke="#231f20" stroke-width="0.8"/>
<text x="231.3" y="488.312" font-size="9.2" text-anchor="end" fill="#231f20" stroke="#231f20" stroke-width="0.18">40</text>
<line x1="233.3" y1="507.85" x2="236.9" y2="507.85" stroke="#231f20" stroke-width="0.8"/>
<text x="231.3" y="511.16200000000003" font-size="9.2" text-anchor="end" fill="#231f20" stroke="#231f20" stroke-width="0.18">30</text>
<line x1="233.3" y1="530.7" x2="236.9" y2="530.7" stroke="#231f20" stroke-width="0.8"/>
<text x="231.3" y="534.0120000000001" font-size="9.2" text-anchor="end" fill="#231f20" stroke="#231f20" stroke-width="0.18">20</text>
<line x1="233.3" y1="553.55" x2="236.9" y2="553.55" stroke="#231f20" stroke-width="0.8"/>
<text x="231.3" y="556.862" font-size="9.2" text-anchor="end" fill="#231f20" stroke="#231f20" stroke-width="0.18">10</text>
<line x1="233.3" y1="576.4" x2="236.9" y2="576.4" stroke="#231f20" stroke-width="0.8"/>
<text x="231.3" y="579.712" font-size="9.2" text-anchor="end" fill="#231f20" stroke="#231f20" stroke-width="0.18">0</text>
<line x1="236.5" y1="576.4" x2="374.5" y2="576.4" stroke="#231f20" stroke-width="0.8"/>
<line x1="260.4" y1="576.4" x2="260.4" y2="579.6" stroke="#231f20" stroke-width="0.8"/>
<text x="260.4" y="588.2" font-size="9.2" text-anchor="middle" fill="#231f20" stroke="#231f20" stroke-width="0.18">10:1</text>
<line x1="305.7" y1="576.4" x2="305.7" y2="579.6" stroke="#231f20" stroke-width="0.8"/>
<text x="305.7" y="588.2" font-size="9.2" text-anchor="middle" fill="#231f20" stroke="#231f20" stroke-width="0.18">5:1</text>
<line x1="351.8" y1="576.4" x2="351.8" y2="579.6" stroke="#231f20" stroke-width="0.8"/>
<text x="351.8" y="588.2" font-size="9.2" text-anchor="middle" fill="#231f20" stroke="#231f20" stroke-width="0.18">1:1</text>
<text x="305.8" y="601.6" font-size="9.2" text-anchor="middle" fill="#231f20" stroke="#231f20" stroke-width="0.18">E:T ratio</text>
<path d="M260.4 514.93L305.7 527.27L351.8 548.07" stroke="#d81f70" stroke-width="1.5" fill="none"/>
<line x1="260.4" y1="508" x2="260.4" y2="520" stroke="#d81f70" stroke-width="1.0"/>
<line x1="258.7" y1="508" x2="262.1" y2="508" stroke="#d81f70" stroke-width="1.0"/>
<line x1="258.7" y1="520" x2="262.1" y2="520" stroke="#d81f70" stroke-width="1.0"/>
<path d="M260.4 493.23L305.7 510.36L351.8 532.99" stroke="#1d1a1b" stroke-width="1.7" fill="none" stroke-dasharray="4.8 2.6"/>
<path d="M260.4 498.02L305.7 501.68L351.8 527.73" stroke="#1d1a1b" stroke-width="1.6" fill="none"/>
<path d="M260.40 512.73L262.60 516.69H258.20Z" fill="#d81f70"/>
<path d="M305.70 525.07L307.90 529.03H303.50Z" fill="#d81f70"/>
<path d="M351.80 545.87L354.00 549.83H349.60Z" fill="#d81f70"/>
<circle cx="260.40" cy="493.23" r="2.9" fill="#fff" stroke="#1d1a1b" stroke-width="0.9"/>
<circle cx="305.70" cy="510.36" r="2.9" fill="#fff" stroke="#1d1a1b" stroke-width="0.9"/>
<circle cx="351.80" cy="532.99" r="2.9" fill="#fff" stroke="#1d1a1b" stroke-width="0.9"/>
<rect x="258.20" y="495.82" width="4.40" height="4.40" fill="#1d1a1b"/>
<rect x="303.50" y="499.48" width="4.40" height="4.40" fill="#1d1a1b"/>
<rect x="349.60" y="525.53" width="4.40" height="4.40" fill="#1d1a1b"/>
<text x="259.8" y="529.49" font-size="7.8" font-weight="bold" text-anchor="middle" fill="#231f20" stroke="#231f20" stroke-width="0.45" letter-spacing="0.25">*</text>
<text x="301.5" y="542.0899999999999" font-size="7.8" font-weight="bold" text-anchor="middle" fill="#231f20" stroke="#231f20" stroke-width="0.45" letter-spacing="0.25">***</text>
<text x="345.6" y="560.29" font-size="7.8" font-weight="bold" text-anchor="middle" fill="#231f20" stroke="#231f20" stroke-width="0.45" letter-spacing="0.25">***</text>
<line x1="384.8" y1="533" x2="394.40000000000003" y2="533" stroke="#1d1a1b" stroke-width="1.6"/>
<circle cx="389.60" cy="533.00" r="2.5" fill="#fff" stroke="#1d1a1b" stroke-width="1.1"/>
<text x="398.1" y="535.8" font-size="7.2" font-style="italic" fill="#231f20" stroke="#231f20" stroke-width="0.18">Stat5<tspan dy="-2.8" font-size="5.0" font-style="normal" stroke-width="0.08">fl/fl</tspan><tspan dy="2.8" font-size="0.6"> </tspan></text>
<line x1="384.8" y1="550.2" x2="394.40000000000003" y2="550.2" stroke="#d81f70" stroke-width="1.4"/>
<path d="M389.60 547.80L391.80 551.76H387.40Z" fill="#d81f70"/>
<text x="398.1" y="549.9" font-size="7.2" font-style="italic" fill="#231f20" stroke="#231f20" stroke-width="0.18">Stat5<tspan dy="-2.9" font-size="4.5" font-style="normal" stroke-width="0.08">Δ/Δ</tspan><tspan dy="2.9" font-size="0.6"> </tspan>Ncr1<tspan font-style="normal">-iCre</tspan><tspan dy="-2.7" font-size="5.0" font-style="normal" stroke-width="0.08">Tg</tspan><tspan dy="2.7" font-size="0.6"> </tspan>-</text>
<text x="398.1" y="558.6" font-size="7.2" font-style="italic" fill="#231f20" stroke="#231f20" stroke-width="0.18">Vav-Bcl2</text>
<line x1="384.8" y1="569.6" x2="394.40000000000003" y2="569.6" stroke="#1d1a1b" stroke-width="1.7"/>
<rect x="387.60" y="567.60" width="4.00" height="4.00" fill="#1d1a1b"/>
<text x="398.1" y="572" font-size="7.2" font-style="italic" fill="#231f20" stroke="#231f20" stroke-width="0.18">Vav-Bcl2</text>
</svg>
</body>
</html>
